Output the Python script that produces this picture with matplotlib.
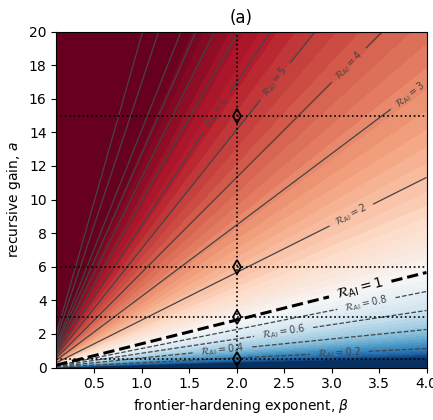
import numpy as np
import matplotlib
matplotlib.use("Agg")
import matplotlib.pyplot as plt
from matplotlib.colors import LogNorm

beta_range = [0.1, 4.0]
a_range = [0.0, 20.0]
kappa = np.sqrt(2)  # R_AI = a / (kappa * beta)
solid_levels = [2, 3, 4, 5, 6, 7, 8, 9, 10, 12, 14]
dashed_levels = [0.2, 0.4, 0.6, 0.8]
label_levels = [2, 3, 4, 5, 6]
marker_beta = 2.0
marker_a = [15, 6, 3, 0.5]

b = np.linspace(*beta_range, 400)
a = np.linspace(*a_range, 400)
B, A = np.meshgrid(b, a)
R = np.clip(A / (kappa * B), 0.011, 99)

fig, ax = plt.subplots(figsize=(4.33, 4.2), dpi=100)
norm = LogNorm(vmin=0.1, vmax=10)
levels = np.concatenate([[0.01], np.logspace(-1, 1, 61), [100]])
ax.contourf(B, A, R, levels=levels, cmap="RdBu_r", norm=norm)
cs1 = ax.contour(B, A, R, levels=solid_levels, colors="#444444", linewidths=0.9)
cs2 = ax.contour(B, A, R, levels=dashed_levels, colors="#444444", linewidths=0.9, linestyles="--")
cs3 = ax.contour(B, A, R, levels=[1], colors="black", linewidths=2.2, linestyles="--")
fmt = lambda v: r"$\mathcal{R}_{\mathrm{AI}}=%g$" % v
ax.clabel(cs1, levels=label_levels, fmt=fmt, fontsize=7, colors="#444444")
ax.clabel(cs2, fmt=fmt, fontsize=7, colors="#444444")
ax.clabel(cs3, fmt=fmt, fontsize=10, colors="black", manual=[(3.3, 4.7)])

ax.axvline(marker_beta, color="black", ls=":", lw=1.2)
for m in marker_a:
    ax.axhline(m, color="black", ls=":", lw=1.2)
ax.plot([marker_beta] * len(marker_a), marker_a, "d", mfc="none", mec="black", ms=7, mew=1.3)

ax.set_xlim(*beta_range)
ax.set_ylim(*a_range)
ax.set_xticks([0.5, 1.0, 1.5, 2.0, 2.5, 3.0, 3.5, 4.0])
ax.set_yticks(range(0, 21, 2))
ax.set_xlabel(r"frontier-hardening exponent, $\beta$")
ax.set_ylabel(r"recursive gain, $a$")
ax.set_title("(a)")
fig.subplots_adjust(left=0.13, right=0.985, bottom=0.125, top=0.925)
fig.savefig("out.png", dpi=100)
